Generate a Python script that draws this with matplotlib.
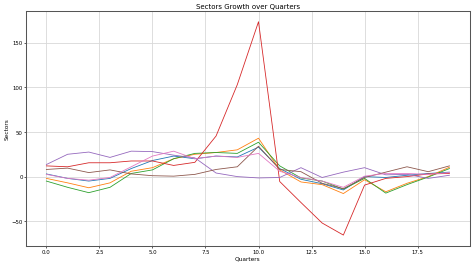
import numpy as np
import matplotlib
matplotlib.use("Agg")
import matplotlib.pyplot as plt

# quarters 0..19
quarters = np.arange(20)

# values (one list per sector)
sector_a = [3, -2, -5, -2, 9, 18, 23, 20, 23, 22, 33, 9, -3, -8, -15, 0, -1, 1.5, 3.5, 5]        # blue
sector_b = [-2, -7, -12.5, -7, 6, 10, 20, 25, 27, 30, 43, 7.5, -6, -9, -19, -3.5, -17, -7.5, 0, 10.5]  # orange
sector_c = [-5, -12, -18, -12, 3.5, 7.5, 20, 26, 27, 26, 38.5, 12, -1.5, -5, -14, -2, -18.5, -9, -0.5, 9]  # green
sector_d = [12, 11, 15.5, 15.5, 17.5, 17.5, 12.5, 16, 45.5, 103, 173.5, -5.5, -29, -52, -65.5, -9.5, -2, 0, 3, 3.5]  # red
sector_e = [13.5, 25, 27.5, 21.5, 28.5, 28, 24, 21, 4, 0, -1.5, -1, 10, -1, 5, 10, 2, 2.5, -2, 1.5]    # purple
sector_f = [8, 9.5, 4.5, 7.5, 3, 1, 0.5, 2.5, 8, 11, 34, 8, 5.5, -7.5, -13.5, -1, 5, 11, 5.5, 12]    # brown
sector_g = [2.5, -2, -4, -1, 11, 23, 28.5, 20, 23, 21.5, 26, 6, -1, -5, -12, 0.5, 3.5, 3.5, 2.5, 4.5]  # pink

series = [sector_a, sector_b, sector_c, sector_d, sector_e, sector_f, sector_g]

fig = plt.figure(figsize=(16, 9), dpi=29.63)
ax = fig.add_subplot(111)
fig.subplots_adjust(left=0.0553, right=0.9905, bottom=0.076, top=0.956)

for s in series:
    ax.plot(quarters, s, linewidth=2)

ax.set_title("Sectors Growth over Quarters", fontsize=17)
ax.set_xlabel("Quarters", fontsize=14)
ax.set_ylabel("Sectors", fontsize=14)
ax.tick_params(labelsize=13, width=1.5, length=5)
ax.grid(True, linewidth=2, color="#d8d8d8")
for sp in ax.spines.values():
    sp.set_linewidth(2.5)
    sp.set_color("#555555")

plt.savefig("out.png", dpi=29.63)
